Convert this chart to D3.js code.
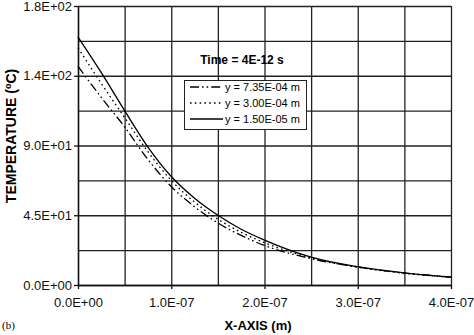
<!DOCTYPE html>
<html><head><meta charset="utf-8">
<script src="https://cdn.jsdelivr.net/npm/d3@7"></script>
<style>
body{margin:0;background:#fff;}
svg{display:block;font-family:"Liberation Sans",Arial,sans-serif;}
</style></head>
<body>
<svg id="c" width="474" height="335"></svg>
<script>
const xValues = [0, 0.25e-7, 0.5e-7, 0.75e-7, 1.0e-7, 1.25e-7, 1.5e-7, 1.75e-7, 2.0e-7, 2.5e-7, 3.0e-7, 3.5e-7, 4.0e-7];
const seriesSolid = [160, 137, 112.5, 89, 70, 56, 45, 36, 29, 18, 11.8, 7.8, 5.0];
const seriesDotted = [153, 130, 108, 86, 67.5, 53.5, 42.5, 34, 27.3, 17.5, 11.5, 7.6, 5.0];
const seriesDashDot = [141, 121, 102, 81, 63.5, 50.5, 40, 32, 25.5, 17, 11.6, 7.7, 5.2];
const seriesNames = ["y = 7.35E-04 m", "y = 3.00E-04 m", "y = 1.50E-05 m"];
const xTickValues = [0, 1e-7, 2e-7, 3e-7, 4e-7];
const xTickLabels = ["0.0E+00", "1.0E-07", "2.0E-07", "3.0E-07", "4.0E-07"];
const yTickValues = [0, 45, 90, 135, 180];
const yTickLabels = ["0.0E+00", "4.5E+01", "9.0E+01", "1.4E+02", "1.8E+02"];
const xGrid = d3.range(0, 9).map(i => i * 0.5e-7);
const yGrid = d3.range(0, 9).map(i => i * 22.5);

const svg = d3.select("#c");
const L = 78, R = 451, T = 6, B = 285;
const x = d3.scaleLinear().domain([0, 4e-7]).range([L, R]);
const y = d3.scaleLinear().domain([0, 180]).range([B, T]);

// grid
svg.append("g").attr("transform", `translate(0,${B})`)
  .call(d3.axisBottom(x).tickValues(xGrid).tickSize(-(B - T)).tickFormat(""))
  .call(g => g.select(".domain").remove())
  .call(g => g.selectAll("line").attr("stroke", "#222").attr("stroke-width", 1.3));
svg.append("g").attr("transform", `translate(${L},0)`)
  .call(d3.axisLeft(y).tickValues(yGrid).tickSize(-(R - L)).tickFormat(""))
  .call(g => g.select(".domain").remove())
  .call(g => g.selectAll("line").attr("stroke", "#222").attr("stroke-width", 1.3));

// axes
const xa = svg.append("g").attr("transform", `translate(0,${B})`)
  .call(d3.axisBottom(x).tickValues(xTickValues).tickSize(4).tickSizeOuter(0).tickPadding(9)
    .tickFormat((d, i) => xTickLabels[i]));
const ya = svg.append("g").attr("transform", `translate(${L},0)`)
  .call(d3.axisLeft(y).tickValues(yTickValues).tickSize(4).tickSizeOuter(0).tickPadding(2)
    .tickFormat((d, i) => yTickLabels[i]));
[xa, ya].forEach(g => {
  g.select(".domain").attr("stroke", "#111").attr("stroke-width", 1.4);
  g.selectAll(".tick line").attr("stroke", "#111").attr("stroke-width", 1.3);
  g.selectAll("text").attr("font-family", "Liberation Sans, Arial, sans-serif")
    .attr("font-size", 13).attr("fill", "#111");
});

// lines
const line = d3.line().x((d, i) => x(xValues[i])).y(d => y(d)).curve(d3.curveMonotoneX);
const styles = [
  {data: seriesDashDot, dash: "9,3,1.6,3,1.6,3"},
  {data: seriesDotted, dash: "1.6,3.2"},
  {data: seriesSolid, dash: null}
];
styles.forEach(s => {
  svg.append("path").attr("d", line(s.data)).attr("fill", "none")
    .attr("stroke", "#000").attr("stroke-width", 1.3)
    .attr("stroke-dasharray", s.dash);
});

// title
svg.append("text").attr("x", 242).attr("y", 64).attr("text-anchor", "middle")
  .attr("font-weight", "bold").attr("font-size", 12).text("Time = 4E-12 s");

// legend
const lg = svg.append("g");
lg.append("rect").attr("x", 184.5).attr("y", 80.5).attr("width", 122).attr("height", 49)
  .attr("fill", "#fff").attr("stroke", "#222").attr("stroke-width", 1);
styles.forEach((s, i) => {
  const yy = 87 + i * 16;
  lg.append("line").attr("x1", 190).attr("x2", 223).attr("y1", yy).attr("y2", yy)
    .attr("stroke", "#000").attr("stroke-width", 1.3).attr("stroke-dasharray", s.dash);
  lg.append("text").attr("x", 225).attr("y", yy + 4).attr("font-size", 11).text(seriesNames[i]);
});

// axis titles
const yt = svg.append("text").attr("transform", "translate(16,136) rotate(-90)")
  .attr("text-anchor", "middle").attr("font-weight", "bold").attr("font-size", 14);
yt.append("tspan").text("TEMPERATURE (");
yt.append("tspan").attr("font-size", 9).attr("dy", -5).text("o");
yt.append("tspan").attr("dy", 5).text("C)");
svg.append("text").attr("x", 258).attr("y", 330).attr("text-anchor", "middle")
  .attr("font-weight", "bold").attr("font-size", 13).text("X-AXIS (m)");
svg.append("text").attr("x", 2).attr("y", 329).attr("font-family", "Liberation Serif, Times New Roman, serif")
  .attr("font-size", 11).text("(b)");
</script>
</body></html>
